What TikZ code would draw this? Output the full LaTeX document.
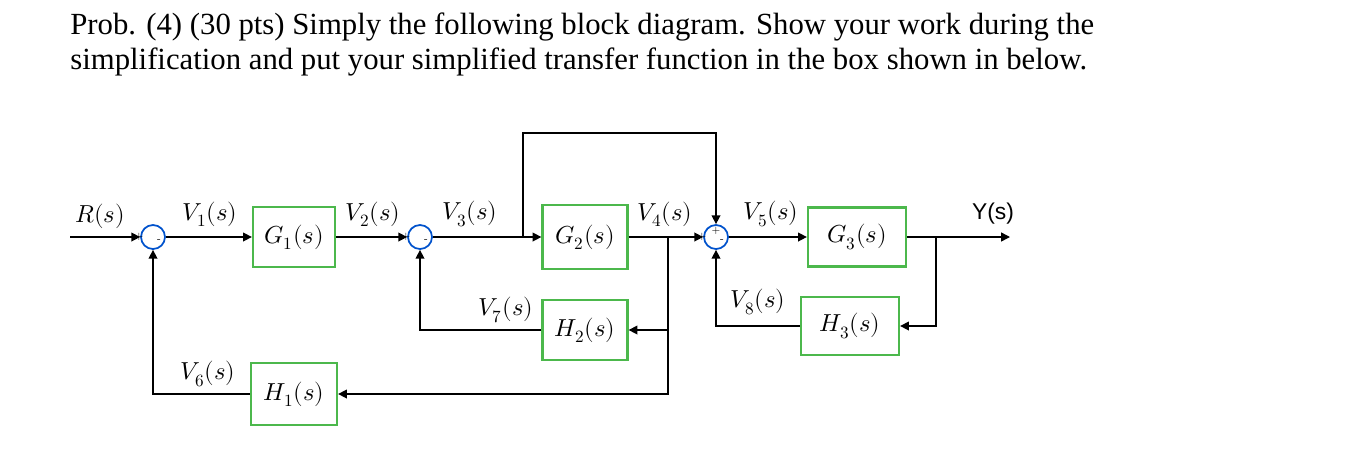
\documentclass[tikz,border=0pt]{standalone}
\usepackage{fontspec}
\setmainfont{Liberation Serif}
\newfontfamily\sansfont{Liberation Sans}
\usepackage{unicode-math}
\usetikzlibrary{positioning,arrows.meta}
\tikzset{
  block/.style={draw=green!60!black!70, line width=1.3pt, fill=white, inner sep=0pt},
  sumnode/.style={draw=blue!60!cyan!80!black, line width=1pt, circle, minimum size=0.48cm, inner sep=0pt},
  sig/.style={-{Triangle[length=5pt,width=5pt]}, thick},
  wire/.style={thick},
  lbl/.style={font=\fontsize{14}{16}\selectfont, inner sep=0pt},
  sgn/.style={font=\fontsize{6}{6}\selectfont\sffamily, inner sep=0pt}
}
\newcommand{\bl}[1]{\fontsize{14}{16}\selectfont$#1$}
\begin{document}
\begin{tikzpicture}[x=0.02cm, y=-0.02cm]
  \useasboundingbox (0,0) rectangle (1372,464);
  % title
  \node[anchor=north west, align=left, inner sep=0pt, font=\fontsize{17.5}{20}\selectfont] (title) at (70,12)
    {Prob. (4) (30 pts) Simply the following block diagram. Show your work during the\\
     simplification and put your simplified transfer function in the box shown in below.};

  % blocks
  \node[block, minimum width=1.64cm, minimum height=1.2cm] (G1) at (294,237) {\bl{G_1(s)}};
  \node[block, minimum width=1.7cm, minimum height=1.28cm] (G2) at (585,237) {\bl{G_2(s)}};
  \node[block, minimum width=1.96cm, minimum height=1.18cm] (G3) at (857,237) {\bl{G_3(s)}};
  \node[block, minimum width=1.7cm, minimum height=1.2cm] (H2) at (585,330) {\bl{H_2(s)}};
  \node[block, minimum width=1.96cm, minimum height=1.16cm] (H3) at (850,326) {\bl{H_3(s)}};
  \node[block, minimum width=1.72cm, minimum height=1.24cm] (H1) at (294,394) {\bl{H_1(s)}};

  % summing junctions
  \node[sumnode] (S1) at (153,237) {};
  \node[sumnode] (S2) at (420,237) {};
  \node[sumnode] (S3) at (716,237) {};
  \foreach \s in {S1,S2,S3} {
    \node[sgn] at ([xshift=-0.28cm]\s.center) {+};
    \node[sgn] at ([xshift=0.12cm,yshift=-0.08cm]\s.center) {-};
  }
  \node[sgn] at ([yshift=0.12cm]S3.center) {+};

  % coordinates
  \coordinate (Rin) at (70,237);
  \coordinate (Yout) at (1010,237);
  \coordinate (P3) at (936,237);
  \coordinate (P4) at (668,237);
  \coordinate (P1) at (523,237);
  \coordinate (T1) at (523,133);
  \coordinate (T2) at (716,133);

  % forward path
  \draw[sig] (Rin) -- (S1);
  \draw[sig] (S1) -- (G1);
  \draw[sig] (G1) -- (S2);
  \draw[sig] (S2) -- (G2);
  \draw[sig] (G2) -- (S3);
  \draw[sig] (S3) -- (G3);
  \draw[sig] (G3) -- (Yout);

  % feed-forward over the top
  \draw[sig] (P1) -- (T1) -- (T2) -- (S3);

  % feedback loops
  \draw[sig] (P3) |- (H3);
  \draw[sig] (H3) -| (S3);
  \draw[sig] (P4) |- (H2);
  \draw[sig] (H2) -| (S2);
  \draw[sig] (P4) |- (H1);
  \draw[sig] (H1) -| (S1);

  % labels
  \node[lbl] at (100,216) {$R(s)$};
  \node[lbl] at (210,214) {$V_1(s)$};
  \node[lbl] at (373,214) {$V_2(s)$};
  \node[lbl] at (470,214) {$V_3(s)$};
  \node[lbl] at (665,214) {$V_4(s)$};
  \node[lbl] at (771,214) {$V_5(s)$};
  \node[lbl, font=\fontsize{13}{15}\selectfont\sansfont] at (993,214) {Y(s)};
  \node[lbl] at (506,310) {$V_7(s)$};
  \node[lbl] at (758,302) {$V_8(s)$};
  \node[lbl] at (208,374) {$V_6(s)$};
\end{tikzpicture}
\end{document}
